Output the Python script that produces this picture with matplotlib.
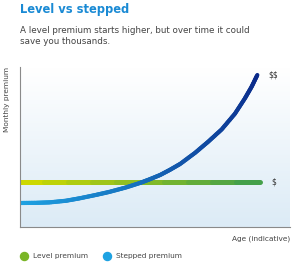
import matplotlib.pyplot as plt
import numpy as np
from matplotlib.collections import LineCollection
from matplotlib.colors import LinearSegmentedColormap
from matplotlib.lines import Line2D

### Data (indicative units)
age = [0, 6, 11, 17, 22, 28, 33, 39, 44.4, 48, 51.9, 55.5, 59.3, 64.8, 69.7, 74.7, 79.6,
       83.3, 85.8, 87.9]
stepped = [15.0, 15.1, 15.4, 16.4, 17.9, 20.0, 21.9, 24.6, 27.5, 29.8, 32.5, 35.7, 39.4,
           46.3, 53.3, 61.0, 70.8, 80.4, 87.7, 95.0]
level_age = [0, 89]
level = [28, 28]

title = 'Level vs stepped'
subtitle = 'A level premium starts higher, but over time it could\nsave you thousands.'
series_names = ['Level premium', 'Stepped premium']


def gradient_line(ax, x, y, c0, c1, lw):
    '''Draw polyline x,y with colour fading from c0 to c1 along it.'''
    cmap = LinearSegmentedColormap.from_list('g', [c0, c1])
    ### split every segment in small pieces so the colour changes smoothly
    px, py = [], []
    for i in range(len(x) - 1):
        t = np.linspace(0, 1, 10, endpoint=False)
        px.extend(x[i] + (x[i + 1] - x[i]) * t)
        py.extend(y[i] + (y[i + 1] - y[i]) * t)
    px.append(x[-1])
    py.append(y[-1])
    pts = np.array([px, py]).T.reshape(-1, 1, 2)
    segs = np.concatenate([pts[:-1], pts[1:]], axis=1)
    lc = LineCollection(segs, cmap=cmap, linewidth=lw, capstyle='round', joinstyle='round')
    lc.set_array(np.linspace(0, 1, len(segs)))
    ax.add_collection(lc)


fig = plt.figure(figsize=(3.0, 2.66), dpi=100)
ax = fig.add_axes([20 / 300, 1 - 227 / 266, 270 / 300, 160 / 266])

### background gradient
bg = LinearSegmentedColormap.from_list('bg', ['#ffffff', '#dcebf6'])
ax.imshow(np.linspace(1, 0, 100).reshape(-1, 1), extent=[0, 100, 0, 100],
          origin='lower', cmap=bg, aspect='auto', zorder=0)
ax.set_xlim(0, 100)
ax.set_ylim(0, 100)

gradient_line(ax, level_age, level, '#cdd800', '#45a04a', 3.6)
gradient_line(ax, age, stepped, '#1ea2e2', '#0b2a8a', 3.0)

ax.text(92, 95, r'\$\$', fontsize=5.5, color='#333333', va='center', ha='left')
ax.text(93, 28, r'\$', fontsize=5.5, color='#333333', va='center', ha='left')

for s in ['top', 'right']:
    ax.spines[s].set_visible(False)
for s in ['left', 'bottom']:
    ax.spines[s].set_color('#8a8a8a')
    ax.spines[s].set_linewidth(0.8)
ax.set_xticks([])
ax.set_yticks([])

### texts
fig.text(20 / 300, 1 - 10 / 266, title, fontsize=8.3, fontweight='bold',
         color='#1a8ad4', va='center', ha='left')
fig.text(20 / 300, 1 - 36 / 266, subtitle, fontsize=6.3, color='#444444',
         va='center', ha='left', linespacing=1.3)
fig.text(7 / 300, 1 - 67 / 266, 'Monthly premium', fontsize=5.3, color='#444444',
         rotation=90, va='top', ha='center')
fig.text(290 / 300, 1 - 239 / 266, 'Age (indicative)', fontsize=5.3, color='#444444',
         va='center', ha='right')

### legend
for xc, col, name in [(24, '#7ab527', series_names[0]), (107, '#1ea2e2', series_names[1])]:
    fig.add_artist(Line2D([xc / 300], [1 - 256 / 266], marker='o', markersize=5.8,
                          color=col, linestyle='none', transform=fig.transFigure))
    fig.text((xc + 9) / 300, 1 - 256 / 266, name, fontsize=5.3, color='#444444',
             va='center', ha='left')

fig.savefig('out.png', dpi=100)
